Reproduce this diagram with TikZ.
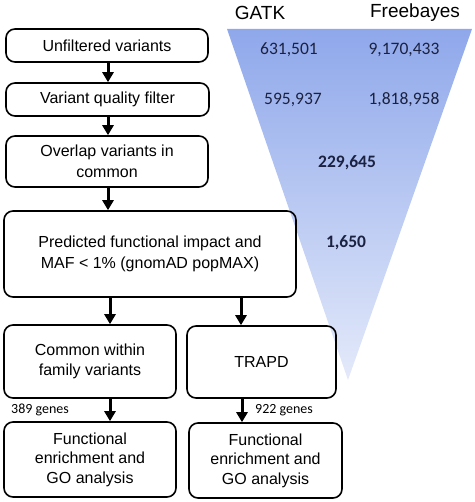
\documentclass[tikz,border=0pt]{standalone}
\usepackage{fontspec}
\setmainfont{Liberation Sans}
\newfontfamily\numfont{Carlito}
\usetikzlibrary{arrows.meta}
\definecolor{funtop}{HTML}{8FA8EB}
\definecolor{funbot}{HTML}{E4EAFA}
\definecolor{numcol}{HTML}{1B2140}
\tikzset{
  box/.style={draw=black, line width=1.6pt, rounded corners=9pt, align=center, inner sep=0pt,
    font=\fontsize{16}{20.5}\selectfont},
  arr/.style={line width=3pt, -{Triangle[length=10pt,width=11pt]}},
  num/.style={font=\numfont\fontsize{17.5}{20}\selectfont, text=numcol},
  bnum/.style={font=\numfont\bfseries\fontsize{17.5}{20}\selectfont, text=numcol},
  gene/.style={font=\numfont\fontsize{14}{16}\selectfont},
  head/.style={font=\fontsize{19}{22}\selectfont}
}
\begin{document}
\begin{tikzpicture}[x=1pt,y=-1pt]
\useasboundingbox (0,0) rectangle (474,502);
% funnel
\shade[top color=funtop, bottom color=funbot] (227,29) -- (472,29) -- (348,380) -- cycle;
\node[head] (gatk) at (260,13) {GATK};
\node[head] (fb) at (415,13) {Freebayes};
\node[num] (n1) at (289,50) {631,501};
\node[num] (n2) at (404,50) {9,170,433};
\node[num] (n3) at (293,100) {595,937};
\node[num] (n4) at (404,100) {1,818,958};
\node[bnum] (n5) at (347,163) {229,645};
\node[bnum] (n6) at (346,243) {1,650};
% boxes
\node[box, minimum width=202pt, minimum height=33pt] (b1) at (107,45.5) {Unfiltered variants};
\node[box, minimum width=203pt, minimum height=33pt] (b2) at (107.5,99.5) {Variant quality filter};
\node[box, minimum width=202pt, minimum height=51pt] (b3) at (107,161.5) {Overlap variants in\\common};
\node[box, minimum width=292pt, minimum height=86pt] (b4) at (150,254) {Predicted functional impact and\\MAF < 1\% (gnomAD popMAX)};
\node[box, minimum width=172pt, minimum height=73pt] (b5) at (90,361.5) {Common within\\family variants};
\node[box, minimum width=149pt, minimum height=72pt] (b6) at (261.5,362) {TRAPD};
\node[box, minimum width=172pt, minimum height=75pt, font=\fontsize{16}{19.5}\selectfont] (b7) at (90,459.5) {Functional\\enrichment and\\GO analysis};
\node[box, minimum width=153pt, minimum height=75pt, font=\fontsize{16}{19.5}\selectfont] (b8) at (265.5,460.5) {Functional\\enrichment and\\GO analysis};
% arrows
\draw[arr] ([xshift=1pt]b1.south) -- ([xshift=1pt]b1.south |- b2.north);
\draw[arr] ([xshift=0.5pt]b2.south) -- ([xshift=0.5pt]b2.south |- b3.north);
\draw[arr] ([xshift=1pt]b3.south) -- ([xshift=1pt]b3.south |- b4.north);
\draw[arr] ([xshift=-40pt]b4.south) -- ([xshift=-40pt]b4.south |- b5.north);
\draw[arr] ([xshift=91pt]b4.south) -- ([xshift=91pt]b4.south |- b6.north);
\draw[arr] ([xshift=20pt]b5.south) -- ([xshift=20pt]b5.south |- b7.north);
\draw[arr] ([xshift=-19.5pt]b6.south) -- ([xshift=-19.5pt]b6.south |- b8.north);
\node[gene] (g1) at (40,410) {389 genes};
\node[gene] (g2) at (284,410) {922 genes};
\end{tikzpicture}
\end{document}
